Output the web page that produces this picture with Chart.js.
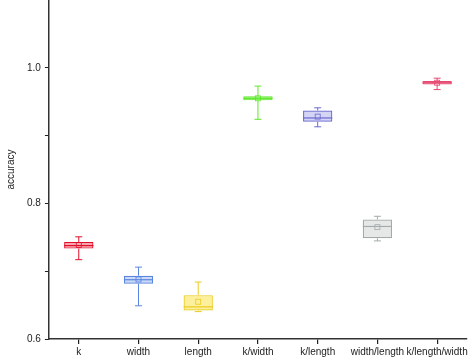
<!DOCTYPE html>
<html>
<head>
<meta charset="utf-8">
<script src="https://cdn.jsdelivr.net/npm/chart.js@4"></script>
<style>
html,body{margin:0;padding:0;background:#fff;}
#wrap{width:474px;height:360px;}
</style>
</head>
<body>
<div id="wrap"><canvas id="c" width="474" height="360"></canvas></div>
<script>
const categories = ["k","width","length","k/width","k/length","width/length","k/length/width"];
const whiskerMin = [0.717, 0.649, 0.6404, 0.924, 0.913, 0.7447, 0.9679];
const q1Values   = [0.7333, 0.6815, 0.642, 0.952, 0.9205, 0.7486, 0.9753];
const medians    = [0.7378, 0.6874, 0.6474, 0.955, 0.926, 0.766, 0.978];
const q3Values   = [0.7432, 0.6933, 0.6647, 0.958, 0.937, 0.7763, 0.9807];
const whiskerMax = [0.7507, 0.706, 0.684, 0.973, 0.941, 0.781, 0.9847];
const means      = [0.7385, 0.6878, 0.655, 0.955, 0.928, 0.765, 0.978];
const yTickValues = [0.6, 0.7, 0.8, 0.9, 1.0];
const yTickLabels = ["0.6","0.8","1.0"];

const strokeColors = ["#e0102a","#5a86e0","#eccc20","#5ee82a","#6a6ad2","#a4aaaa","#e64a72"];
const fillColors   = ["rgba(240,90,110,0.55)","rgba(150,180,240,0.5)","rgba(250,230,90,0.6)","rgba(120,240,80,0.6)","rgba(170,170,235,0.5)","rgba(210,214,214,0.55)","rgba(240,120,150,0.7)"];

const boxPlugin = {
  id: 'boxExtras',
  afterDatasetsDraw(chart) {
    const ctx = chart.ctx;
    const y = chart.scales.y;
    const meta = chart.getDatasetMeta(0);
    meta.data.forEach((bar, i) => {
      const x = bar.x;
      const w = bar.width;
      const col = strokeColors[i];
      ctx.save();
      ctx.strokeStyle = col;
      ctx.lineWidth = 1;
      const yMax = y.getPixelForValue(whiskerMax[i]);
      const yMin = y.getPixelForValue(whiskerMin[i]);
      const yQ3 = y.getPixelForValue(q3Values[i]);
      const yQ1 = y.getPixelForValue(q1Values[i]);
      const yMed = y.getPixelForValue(medians[i]);
      const yMean = y.getPixelForValue(means[i]);
      ctx.beginPath();
      ctx.moveTo(x, yQ3); ctx.lineTo(x, yMax);
      ctx.moveTo(x, yQ1); ctx.lineTo(x, yMin);
      ctx.moveTo(x - 3.5, yMax); ctx.lineTo(x + 3.5, yMax);
      ctx.moveTo(x - 3.5, yMin); ctx.lineTo(x + 3.5, yMin);
      ctx.stroke();
      ctx.lineWidth = 1.2;
      ctx.beginPath();
      ctx.moveTo(x - w / 2, yMed); ctx.lineTo(x + w / 2, yMed);
      ctx.stroke();
      ctx.lineWidth = 0.8;
      ctx.strokeRect(x - 2.5, yMean - 2.5, 5, 5);
      ctx.restore();
    });
  }
};

new Chart(document.getElementById('c'), {
  type: 'bar',
  data: {
    labels: categories,
    datasets: [{
      data: q1Values.map((v, i) => [v, q3Values[i]]),
      backgroundColor: fillColors,
      borderColor: strokeColors,
      borderWidth: 1.2,
      borderSkipped: false,
      barPercentage: 0.49,
      categoryPercentage: 1.0
    }]
  },
  options: {
    responsive: false,
    animation: false,
    layout: { padding: { top: 0, right: 7, left: 5, bottom: 0 } },
    plugins: { legend: { display: false }, tooltip: { enabled: false } },
    scales: {
      x: {
        grid: { display: true, offset: false, drawOnChartArea: false, drawTicks: true, tickLength: 5, color: '#222', lineWidth: 1.2 },
        border: { display: true, color: '#333', width: 1.5 },
        ticks: { color: '#222', font: { family: 'Liberation Sans, Arial, sans-serif', size: 10 }, padding: 2, maxRotation: 0, autoSkip: false }
      },
      y: {
        min: 0.6, max: 1.1,
        afterBuildTicks: function(scale) {
          scale.ticks = yTickValues.map(v => ({ value: v }));
        },
        afterFit: function(scale) {
          scale.paddingTop = 0;
        },
        grid: { display: true, drawOnChartArea: false, drawTicks: true, tickLength: 4, color: '#222', lineWidth: 1 },
        border: { display: true, color: '#333', width: 1.5 },
        title: { display: true, text: 'accuracy', color: '#222', font: { family: 'Liberation Sans, Arial, sans-serif', size: 10 }, padding: { top: 0, bottom: 6 } },
        ticks: {
          color: '#222',
          font: { family: 'Liberation Sans, Arial, sans-serif', size: 10 },
          padding: 4,
          callback: function(v) {
            const s = Number(v).toFixed(1);
            return yTickLabels.includes(s) ? s : '';
          }
        }
      }
    }
  },
  plugins: [boxPlugin]
});
</script>
</body>
</html>
